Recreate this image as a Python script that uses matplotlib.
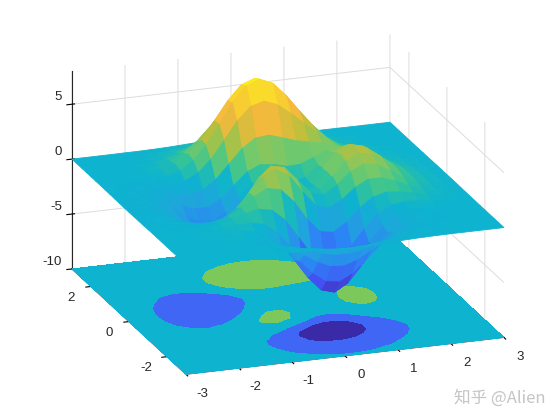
import numpy as np
import matplotlib
matplotlib.use('Agg')
import matplotlib.pyplot as plt
from matplotlib.colors import LinearSegmentedColormap

# grid and heights estimated for the surface, one row per y value
x_vals = [-3, -2.75, -2.5, -2.25, -2, -1.75, -1.5, -1.25, -1, -0.75, -0.5, -0.25, 0,
          0.25, 0.5, 0.75, 1, 1.25, 1.5, 1.75, 2, 2.25, 2.5, 2.75, 3]
y_vals = x_vals
z_rows = [
    [0, 0, 0, 0, 0, 0.01, 0, -0.01, -0.03, -0.08, -0.14, -0.2, -0.25, -0.25, -0.22, -0.17, -0.11, -0.06, -0.03, -0.01, 0, 0, 0, 0, 0],
    [0, 0, 0, 0, 0.01, 0.01, 0, -0.02, -0.1, -0.22, -0.39, -0.56, -0.68, -0.69, -0.61, -0.46, -0.3, -0.17, -0.08, -0.03, -0.01, 0, 0, 0, 0],
    [0, 0, 0, 0.01, 0.02, 0.02, 0, -0.07, -0.24, -0.53, -0.92, -1.31, -1.57, -1.61, -1.41, -1.06, -0.69, -0.38, -0.18, -0.08, -0.03, -0.01, 0, 0, 0],
    [0, 0, 0.01, 0.01, 0.03, 0.04, 0.01, -0.12, -0.43, -0.98, -1.73, -2.49, -3, -3.08, -2.7, -2.04, -1.32, -0.73, -0.35, -0.14, -0.05, -0.01, 0, 0, 0],
    [0, 0, 0.01, 0.02, 0.05, 0.07, 0.05, -0.13, -0.59, -1.45, -2.64, -3.88, -4.76, -4.93, -4.35, -3.27, -2.1, -1.15, -0.53, -0.2, -0.06, -0.01, 0, 0, 0],
    [0, 0, 0.01, 0.03, 0.07, 0.13, 0.15, 0.02, -0.46, -1.48, -3.01, -4.7, -5.98, -6.33, -5.64, -4.24, -2.69, -1.42, -0.61, -0.2, -0.05, 0, 0.01, 0, 0],
    [0, 0, 0.01, 0.03, 0.08, 0.19, 0.33, 0.39, 0.15, -0.68, -2.19, -4.08, -5.68, -6.33, -5.76, -4.32, -2.64, -1.27, -0.44, -0.07, 0.04, 0.05, 0.03, 0.01, 0],
    [0, -0.01, -0.01, -0.01, 0.03, 0.17, 0.45, 0.84, 1.11, 0.88, -0.14, -1.84, -3.6, -4.6, -4.4, -3.22, -1.74, -0.56, 0.08, 0.27, 0.23, 0.13, 0.06, 0.02, 0.01],
    [-0.01, -0.03, -0.06, -0.1, -0.13, -0.04, 0.3, 0.98, 1.86, 2.45, 2.23, 1, -0.72, -2.02, -2.22, -1.43, -0.27, 0.58, 0.88, 0.77, 0.5, 0.26, 0.11, 0.04, 0.01],
    [-0.02, -0.05, -0.12, -0.25, -0.42, -0.51, -0.28, 0.49, 1.78, 3.09, 3.63, 2.94, 1.4, -0.01, -0.41, 0.2, 1.18, 1.79, 1.78, 1.35, 0.82, 0.41, 0.18, 0.06, 0.02],
    [-0.03, -0.08, -0.2, -0.44, -0.8, -1.16, -1.21, -0.6, 0.8, 2.49, 3.55, 3.3, 2, 0.7, 0.39, 1.14, 2.2, 2.76, 2.56, 1.88, 1.12, 0.56, 0.24, 0.09, 0.03],
    [-0.03, -0.1, -0.27, -0.6, -1.14, -1.78, -2.16, -1.84, -0.56, 1.23, 2.56, 2.63, 1.58, 0.53, 0.48, 1.5, 2.76, 3.37, 3.09, 2.25, 1.34, 0.66, 0.28, 0.1, 0.03],
    [-0.04, -0.11, -0.3, -0.69, -1.33, -2.14, -2.77, -2.71, -1.65, 0.06, 1.48, 1.75, 0.98, 0.19, 0.37, 1.57, 2.94, 3.58, 3.27, 2.37, 1.41, 0.7, 0.3, 0.11, 0.03],
    [-0.04, -0.11, -0.29, -0.67, -1.32, -2.16, -2.87, -2.98, -2.15, -0.65, 0.68, 1.06, 0.52, -0.03, 0.28, 1.47, 2.76, 3.36, 3.06, 2.22, 1.32, 0.65, 0.28, 0.1, 0.03],
    [-0.03, -0.09, -0.25, -0.57, -1.12, -1.85, -2.49, -2.64, -2, -0.76, 0.39, 0.8, 0.46, 0.09, 0.38, 1.34, 2.38, 2.83, 2.56, 1.84, 1.09, 0.54, 0.23, 0.08, 0.03],
    [-0.02, -0.07, -0.18, -0.41, -0.82, -1.33, -1.76, -1.78, -1.16, -0.05, 1.04, 1.55, 1.42, 1.12, 1.17, 1.65, 2.17, 2.32, 1.99, 1.4, 0.82, 0.4, 0.17, 0.06, 0.02],
    [-0.01, -0.04, -0.11, -0.25, -0.48, -0.74, -0.86, -0.6, 0.23, 1.51, 2.79, 3.59, 3.69, 3.34, 2.93, 2.66, 2.43, 2.09, 1.58, 1.04, 0.58, 0.28, 0.12, 0.04, 0.01],
    [-0.01, -0.02, -0.06, -0.12, -0.2, -0.23, -0.05, 0.55, 1.69, 3.29, 4.92, 6.06, 6.39, 5.94, 5.02, 3.97, 2.97, 2.09, 1.35, 0.79, 0.41, 0.18, 0.07, 0.03, 0.01],
    [0, -0.01, -0.02, -0.03, -0.01, 0.11, 0.48, 1.28, 2.61, 4.38, 6.2, 7.54, 8, 7.48, 6.25, 4.72, 3.26, 2.05, 1.19, 0.62, 0.29, 0.12, 0.05, 0.02, 0],
    [0, 0, 0, 0.01, 0.07, 0.24, 0.65, 1.43, 2.67, 4.29, 5.96, 7.22, 7.67, 7.2, 5.99, 4.45, 2.96, 1.78, 0.96, 0.47, 0.21, 0.08, 0.03, 0.01, 0],
    [0, 0, 0.01, 0.02, 0.08, 0.23, 0.55, 1.16, 2.1, 3.31, 4.56, 5.51, 5.86, 5.5, 4.57, 3.37, 2.21, 1.29, 0.68, 0.32, 0.13, 0.05, 0.02, 0.01, 0],
    [0, 0, 0.01, 0.02, 0.06, 0.15, 0.36, 0.74, 1.31, 2.06, 2.82, 3.41, 3.63, 3.41, 2.83, 2.08, 1.35, 0.78, 0.4, 0.19, 0.08, 0.03, 0.01, 0, 0],
    [0, 0, 0, 0.01, 0.03, 0.08, 0.19, 0.39, 0.69, 1.07, 1.47, 1.77, 1.89, 1.77, 1.47, 1.08, 0.7, 0.4, 0.21, 0.09, 0.04, 0.01, 0, 0, 0],
    [0, 0, 0, 0.01, 0.02, 0.04, 0.08, 0.17, 0.3, 0.47, 0.64, 0.77, 0.82, 0.77, 0.64, 0.47, 0.3, 0.17, 0.09, 0.04, 0.02, 0.01, 0, 0, 0],
    [0, 0, 0, 0, 0.01, 0.01, 0.03, 0.06, 0.11, 0.17, 0.23, 0.28, 0.3, 0.28, 0.23, 0.17, 0.11, 0.06, 0.03, 0.01, 0.01, 0, 0, 0, 0],
]
x_ticks = [-3, -2, -1, 0, 1, 2, 3]
y_ticks = [-2, 0, 2]
z_ticks = [-10, -5, 0, 5]
contour_levels = [-7, -3.5, -0.4, 2.8, 9]
contour_colors = ['#3b2aa8', '#3f66f5', '#0db3cf', '#7cc85a']
parula_stops = [(0, '#3e26a8'), (0.12, '#4451f3'), (0.25, '#2d83f5'), (0.36, '#1fa5dc'),
                (0.447, '#0db3cf'), (0.52, '#35c495'), (0.6, '#74c96a'), (0.69, '#bcbf3b'),
                (0.79, '#f5b93d'), (0.92, '#fad92a'), (1, '#f9fb15')]

parula = LinearSegmentedColormap.from_list('parula', parula_stops)
X, Y = np.meshgrid(x_vals, y_vals)
Z = np.array(z_rows)

plt.rcParams['font.family'] = ['Liberation Sans', 'DejaVu Sans']
fig = plt.figure(figsize=(5.6, 4.2), dpi=100)
ax = fig.add_axes([0.004, 0, 1, 1], projection='3d', computed_zorder=False)
ax.set_proj_type('ortho')
ax.view_init(elev=19.1, azim=-109.5)
ax.set_box_aspect((337, 341, 209), zoom=1.21)

floor = ax.contourf(X, Y, Z, levels=contour_levels, colors=contour_colors, zdir='z', offset=-10, zorder=1)
floor.set_clip_on(False)
surf = ax.plot_surface(X, Y, Z, rstride=1, cstride=1, cmap=parula, vmin=-6.55, vmax=8.1,
                       linewidth=0, shade=False, zorder=2)
surf.set_clip_on(False)
# fill the hairline gaps between neighbouring faces
surf.set_edgecolor('face')
surf.set_linewidth(0.6)

ax.set_xlim(-3, 3)
ax.set_ylim(-3, 3)
ax.set_zlim(-10, 8)
ax.set_xticks(x_ticks)
ax.set_yticks(y_ticks)
ax.set_zticks(z_ticks)

for axis in (ax.xaxis, ax.yaxis, ax.zaxis):
    axis.set_pane_color((1, 1, 1, 1))
    axis.pane.set_edgecolor('white')
    axis._axinfo['grid'].update(color='#dcdcdc', linewidth=0.7)
    axis.line.set_color('#262626')
    axis.line.set_linewidth(0.8)
    for tick in axis.get_major_ticks():
        tick.label1.set_visible(False)
        tick.label2.set_visible(False)

# axes3d resets tick label transforms on draw, so the labels are placed as text
for t in x_ticks:
    ax.text(t, -3.85, -10.4, str(t), fontsize=9.5, color='#262626', ha='center', va='center', zorder=5)
for t in y_ticks:
    ax.text(-3.38, t, -10.85, str(t), fontsize=9.5, color='#262626', ha='center', va='center', zorder=5)
for t in z_ticks:
    ax.text(-3.19, 3, t + 0.75, str(t), fontsize=9.5, color='#262626', ha='right', va='center', zorder=5)

fig.text(0.975, 0.052, '知乎 @Alien', color='#c4c4c4', fontsize=12, ha='right', va='center',
         family=['Noto Sans CJK SC', 'DejaVu Sans'])

plt.savefig('out.png', dpi=100)
